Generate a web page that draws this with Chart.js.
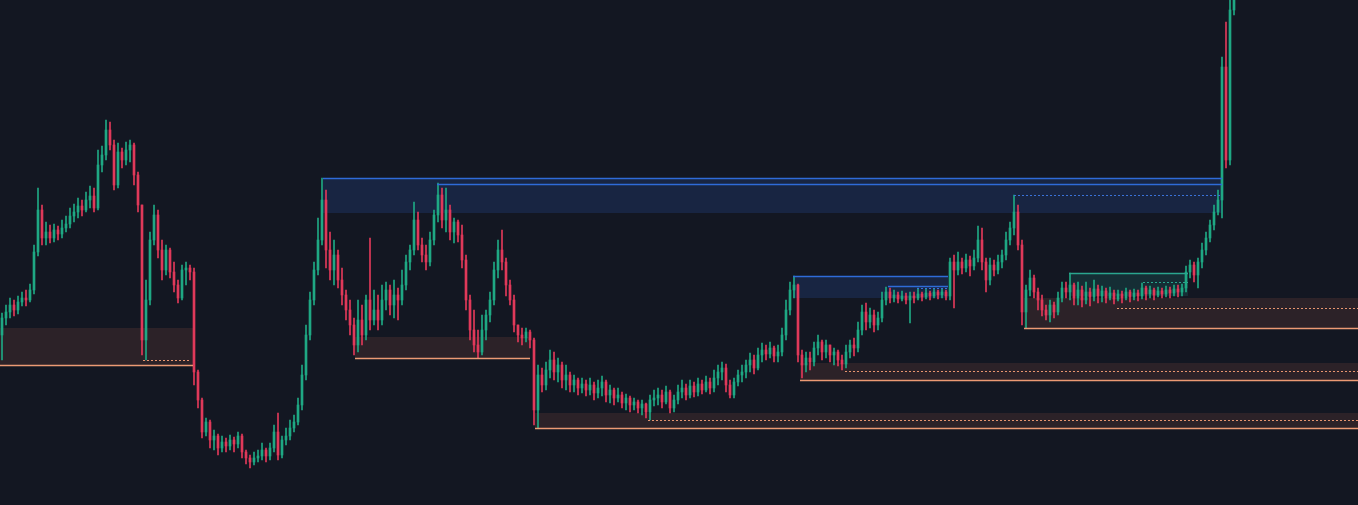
<!DOCTYPE html>
<html><head><meta charset="utf-8">
<script src="https://cdn.jsdelivr.net/npm/chart.js@4.4.1/dist/chart.umd.min.js"></script>
<style>html,body{margin:0;padding:0;background:#131722;overflow:hidden}#wrap{width:1358px;height:505px}</style>
</head><body><div id="wrap"><canvas id="c" width="1358" height="505"></canvas></div>
<script>
// Candle values (arbitrary price units). Open of each candle = previous close.
const firstOpen = 165;
const closes = [
182,188,195,190,198,202,200,210,248,290,
262,268,262,270,266,272,276,284,288,294,
290,300,304,292,335,345,370,355,315,348,
340,350,355,325,295,160,200,260,285,250,
230,250,228,215,202,230,232,228,128,100,
68,78,60,64,52,58,54,60,56,64,
48,42,38,42,44,50,44,52,68,45,
60,64,72,78,95,125,165,200,230,260,
300,250,230,245,220,205,190,175,155,180,
165,200,180,190,180,200,210,195,205,200,
215,238,250,280,255,245,238,260,285,305,
280,290,268,278,265,240,200,170,155,148,
170,185,200,230,250,238,215,200,175,165,
162,168,160,90,125,115,130,140,128,135,
120,125,115,120,112,116,110,115,107,112,
118,105,110,102,105,97,102,95,98,92,
96,88,100,102,105,98,108,92,100,108,
112,105,114,108,116,110,118,112,122,128,
132,115,105,118,125,128,135,140,132,145,
150,146,152,144,148,165,190,210,215,145,
135,142,138,152,158,148,155,145,148,140,
136,148,155,152,170,188,178,185,175,182,
200,208,202,205,201,204,200,204,202,206,
203,207,204,208,205,208,204,238,230,238,
232,240,234,242,260,238,220,235,230,238,
245,260,272,288,255,188,210,222,208,200,
190,185,195,188,202,212,208,215,202,210,
200,208,203,211,204,209,202,207,201,206,
202,208,203,207,204,212,206,210,205,209,
206,210,207,211,208,212,228,235,225,238,
250,262,275,288,300,433,340,490,540
];
const highs = [
187,195,202,200,204,208,210,216,255,312,
295,278,275,276,274,280,284,292,296,302,
300,308,314,312,350,354,380,378,360,357,
352,358,360,357,328,295,220,268,295,290,
260,255,252,238,220,235,238,235,232,130,
102,82,80,70,66,64,62,65,63,68,
66,50,45,48,50,57,52,57,75,87,
64,72,80,85,102,135,175,208,238,282,
322,310,268,260,250,232,210,200,182,200,
195,205,262,210,205,215,218,215,220,212,
230,245,255,298,288,262,255,268,290,317,
312,312,295,282,280,275,245,205,190,170,
185,190,208,238,260,270,242,220,205,175,
172,172,170,162,135,132,138,150,148,142,
138,135,128,125,122,122,120,122,118,120,
124,120,115,112,112,108,106,104,102,100,
100,97,105,110,112,110,114,110,105,115,
120,116,120,118,122,120,124,122,130,135,
138,136,120,122,130,135,140,147,145,152,
157,155,158,154,155,172,200,218,224,216,
150,148,148,158,165,160,160,155,152,150,
145,155,160,162,178,195,197,192,190,188,
208,213,212,210,208,209,207,208,208,212,
208,211,209,211,210,211,210,242,245,248,
242,246,244,250,274,272,242,242,240,245,
250,268,278,305,295,260,215,230,225,212,
205,195,200,198,208,218,218,227,217,218,
214,218,212,220,215,214,212,213,210,210,
209,212,210,211,210,217,214,214,212,213,
212,214,213,215,215,216,234,240,238,242,
257,268,280,295,310,443,478,520,580
];
const lows = [
140,175,182,184,186,194,194,198,206,244,
255,255,257,258,260,262,268,272,278,282,
284,288,292,288,290,328,340,350,310,312,
332,335,338,315,288,145,140,195,255,242,
220,225,222,208,197,200,215,220,115,92,
62,64,52,50,45,48,48,50,48,52,
42,36,32,35,38,40,38,40,48,40,
42,55,60,68,75,90,120,160,195,225,
255,232,220,215,212,195,180,165,145,148,
155,160,170,175,170,175,190,185,182,180,
195,210,230,245,250,238,230,234,255,278,
272,268,260,257,258,232,190,160,148,142,
145,160,178,195,222,230,204,195,168,158,
155,158,152,75,72,108,110,122,120,118,
112,110,108,108,105,107,104,105,100,102,
104,98,97,95,98,92,90,88,90,87,
85,82,80,94,95,92,96,87,88,96,
102,100,102,103,104,106,108,106,108,115,
120,108,102,102,114,118,122,128,126,130,
138,140,142,138,138,144,160,185,202,138,
122,128,130,134,145,140,142,138,135,134,
130,132,142,144,148,165,170,172,168,170,
178,195,197,198,197,199,196,177,197,200,
199,201,200,202,201,202,200,200,192,225,
226,228,224,230,238,230,208,215,224,226,
232,240,255,265,250,175,172,204,202,190,
184,180,178,182,185,198,202,200,195,195,
193,196,194,199,197,198,197,200,196,199,
197,200,198,200,199,201,200,202,200,203,
202,203,202,204,203,204,208,222,218,212,
232,245,258,270,285,282,332,335,485
];

// Demand zones (candle index positions; null end = extends to the right edge)
const demandStart  = [-0.5, 88.25, 133.25, 199.5, 255.5];
const demandEnd    = [47.75, 132, null, null, null];
const demandTop    = [172, 163, 87, 137, 202];
const demandBottom = [135, 142, 72, 120, 172];
// Demand dotted levels
const demandLevel      = [140, 80, 129, 192];
const demandLevelStart = [35.25, 161.5, 210.75, 278.75];
const demandLevelEnd   = [47, null, null, null];

// Supply zones
const supplyStart  = [80.25, 197.75];
const supplyEnd    = [305, 236.5];
const supplyTop    = [322, 224];
const supplyBottom = [287, 202];
// Supply solid levels
const supplySolidLevel = [316, 214];
const supplySolidStart = [108.75, 221.5];
const supplySolidEnd   = [305, 236.5];
// Supply dotted levels
const supplyDotLevel = [305, 212];
const supplyDotStart = [253, 228.75];
const supplyDotEnd   = [305, 236.5];

// Range box (teal)
const rangeStart = [266.75];
const rangeEnd = [296.5];
const rangeTop = [227];
const rangeBottom = [204];
const rangeDotLevel = [218];
const rangeDotStart = [285.25];

const UP = '#1fa884', DOWN = '#e0395a';

const opens = closes.map((c, i) => i === 0 ? firstOpen : closes[i - 1]);
const colors = closes.map((c, i) => c >= opens[i] ? UP : DOWN);
const wicks = closes.map((c, i) => ({x: i, y: [lows[i], highs[i]]}));
const bodies = closes.map((c, i) => ({x: i, y: [Math.min(opens[i], c), Math.max(opens[i], c)]}));

function px(chart, v) { return v === null ? chart.chartArea.right : chart.scales.x.getPixelForValue(v); }
function py(chart, v) { return chart.scales.y.getPixelForValue(v); }
function hline(ctx, x1, x2, y, color, w, dash) {
  ctx.save();
  ctx.strokeStyle = color; ctx.lineWidth = w; ctx.setLineDash(dash || []);
  ctx.beginPath();
  const yy = Math.round(y) + 0.5;
  ctx.moveTo(x1, yy); ctx.lineTo(x2, yy); ctx.stroke();
  ctx.restore();
}

const zonePlugin = {
  id: 'zones',
  beforeDatasetsDraw(chart) {
    const ctx = chart.ctx;
    ctx.save();
    ctx.fillStyle = 'rgba(125,72,62,0.24)';
    demandStart.forEach((s, k) => {
      const x1 = px(chart, s), x2 = px(chart, demandEnd[k]);
      const y1 = py(chart, demandTop[k]), y2 = py(chart, demandBottom[k]);
      ctx.fillRect(x1, y1, x2 - x1, y2 - y1);
    });
    ctx.fillStyle = 'rgba(40,78,160,0.26)';
    supplyStart.forEach((s, k) => {
      const x1 = px(chart, s), x2 = px(chart, supplyEnd[k]);
      const y1 = py(chart, supplyTop[k]), y2 = py(chart, supplyBottom[k]);
      ctx.fillRect(x1, y1, x2 - x1, y2 - y1);
    });
    ctx.fillStyle = 'rgba(38,166,154,0.16)';
    rangeStart.forEach((s, k) => {
      const x1 = px(chart, s), x2 = px(chart, rangeEnd[k]);
      const y1 = py(chart, rangeTop[k]), y2 = py(chart, rangeBottom[k]);
      ctx.fillRect(x1, y1, x2 - x1, y2 - y1);
    });
    ctx.restore();
  },
  afterDatasetsDraw(chart) {
    const ctx = chart.ctx;
    demandStart.forEach((s, k) => {
      hline(ctx, px(chart, s), px(chart, demandEnd[k]), py(chart, demandBottom[k]), '#ec9a74', 1.5);
    });
    demandLevel.forEach((v, k) => {
      hline(ctx, px(chart, demandLevelStart[k]), px(chart, demandLevelEnd[k]), py(chart, v), '#e6956f', 1, [2, 2]);
    });
    supplyStart.forEach((s, k) => {
      hline(ctx, px(chart, s), px(chart, supplyEnd[k]), py(chart, supplyTop[k]), '#2f6bd8', 1.5);
    });
    supplySolidLevel.forEach((v, k) => {
      hline(ctx, px(chart, supplySolidStart[k]), px(chart, supplySolidEnd[k]), py(chart, v), '#2f6bd8', 1.5);
    });
    supplyDotLevel.forEach((v, k) => {
      hline(ctx, px(chart, supplyDotStart[k]), px(chart, supplyDotEnd[k]), py(chart, v), '#3a72d8', 1, [2, 2]);
    });
    rangeStart.forEach((s, k) => {
      hline(ctx, px(chart, s), px(chart, rangeEnd[k]), py(chart, rangeTop[k]), '#2aa68f', 1.5);
      hline(ctx, px(chart, rangeDotStart[k]), px(chart, rangeEnd[k]), py(chart, rangeDotLevel[k]), '#2aa68f', 1, [2, 2]);
    });
  }
};

new Chart(document.getElementById('c'), {
  type: 'bar',
  data: {
    datasets: [
      {data: wicks, backgroundColor: colors, barThickness: 1, grouped: false, order: 2, borderWidth: 0},
      {data: bodies, backgroundColor: colors, barThickness: 2, minBarLength: 1, grouped: false, order: 1, borderWidth: 0}
    ]
  },
  options: {
    responsive: false,
    animation: false,
    layout: {padding: 0},
    plugins: {legend: {display: false}, tooltip: {enabled: false}},
    scales: {
      x: {type: 'linear', display: false, min: -0.5, max: 339, offset: false},
      y: {type: 'linear', display: false, min: -5, max: 500}
    }
  },
  plugins: [zonePlugin]
});
</script>
</body></html>
